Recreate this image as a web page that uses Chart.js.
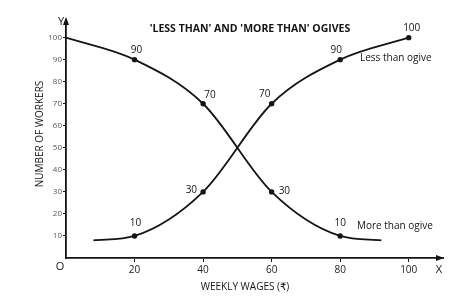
<!DOCTYPE html>
<html><head><meta charset="utf-8">
<script src="https://cdn.jsdelivr.net/npm/chart.js@4"></script>
<style>html,body{margin:0;padding:0;background:#fff}#wrap{width:474px;height:301px;position:relative}</style>
</head><body><div id="wrap"><canvas id="c" width="474" height="301"></canvas></div>
<script>
const chartTitle = "'LESS THAN' AND 'MORE THAN' OGIVES";
const xAxisTitle = "WEEKLY WAGES (₹)";
const yAxisTitle = "NUMBER OF WORKERS";
const xTickValues = [20, 40, 60, 80, 100];
const yTickValues = [10, 20, 30, 40, 50, 60, 70, 80, 90, 100];
const lessThanWages = [8, 20, 40, 60, 80, 100];
const lessThanWorkers = [8, 10, 30, 70, 90, 100];
const lessThanLabels = ['', '10', '30', '70', '90', '100'];
const moreThanWages = [0, 20, 40, 60, 80, 92];
const moreThanWorkers = [100, 90, 70, 30, 10, 8];
const moreThanLabels = ['', '90', '70', '30', '10', ''];
const lessThanName = 'Less than ogive';
const moreThanName = 'More than ogive';

const FONT = "'Open Sans', 'DejaVu Sans', sans-serif";
const INK = '#141414';

function toPoints(xs, ys) { return xs.map((x, i) => ({ x: x, y: ys[i] })); }

// label offsets (style only): [dx, dy, align]
const lessOffsets = [null, [1, -13, 'center'], [-6, -2, 'right'], [-7, -10, 'center'], [-4, -10, 'center'], [3, -9, 'center']];
const moreOffsets = [null, [2, -10, 'center'], [7, -9, 'center'], [7, -1, 'left'], [0, -13, 'center'], null];

const decor = {
  id: 'decor',
  afterDraw(chart) {
    const ctx = chart.ctx;
    const ca = chart.chartArea;
    ctx.save();
    ctx.fillStyle = INK;
    ctx.strokeStyle = INK;
    // arrows
    ctx.beginPath();
    ctx.moveTo(ca.left, ca.top - 3); ctx.lineTo(ca.left - 3, ca.top + 5); ctx.lineTo(ca.left + 3, ca.top + 5); ctx.closePath(); ctx.fill();
    ctx.beginPath();
    ctx.moveTo(ca.right + 1, ca.bottom); ctx.lineTo(ca.right - 7, ca.bottom - 3); ctx.lineTo(ca.right - 7, ca.bottom + 3); ctx.closePath(); ctx.fill();
    // title
    ctx.textBaseline = 'middle';
    ctx.textAlign = 'center';
    ctx.font = 'bold 10.5px ' + FONT;
    ctx.fillText(chartTitle, 250, 29);
    // axis titles
    ctx.font = '10px ' + FONT;
    ctx.fillText(xAxisTitle, 245, 287);
    ctx.save();
    ctx.translate(40, 134);
    ctx.rotate(-Math.PI / 2);
    ctx.fillText(yAxisTitle, 0, 0);
    ctx.restore();
    // O, X, Y
    ctx.font = '11px ' + FONT;
    ctx.fillText('O', 60, 267);
    ctx.fillText('X', 439, 270);
    ctx.fillText('Y', 61, 22);
    // series names
    ctx.font = '10px ' + FONT;
    ctx.textAlign = 'left';
    ctx.fillText(lessThanName, 360, 58);
    ctx.fillText(moreThanName, 357, 226);
    // point labels
    ctx.font = '10px ' + FONT;
    [[0, lessThanLabels, lessOffsets], [1, moreThanLabels, moreOffsets]].forEach(([di, labels, offs]) => {
      const meta = chart.getDatasetMeta(di);
      meta.data.forEach((pt, j) => {
        if (!labels[j] || !offs[j]) return;
        ctx.textAlign = offs[j][2];
        ctx.fillText(labels[j], pt.x + offs[j][0], pt.y + offs[j][1]);
      });
    });
    ctx.restore();
  }
};

new Chart(document.getElementById('c'), {
  type: 'scatter',
  data: {
    datasets: [
      {
        label: lessThanName,
        data: toPoints(lessThanWages, lessThanWorkers),
        showLine: true,
        borderColor: INK,
        backgroundColor: INK,
        borderWidth: 1.8,
        cubicInterpolationMode: 'monotone',
        pointRadius: lessThanLabels.map(l => l ? 2.7 : 0),
        pointBorderWidth: 0,
        clip: false
      },
      {
        label: moreThanName,
        data: toPoints(moreThanWages, moreThanWorkers),
        showLine: true,
        borderColor: INK,
        backgroundColor: INK,
        borderWidth: 1.8,
        cubicInterpolationMode: 'monotone',
        pointRadius: moreThanLabels.map(l => l ? 2.7 : 0),
        pointBorderWidth: 0,
        clip: false
      }
    ]
  },
  options: {
    responsive: false,
    animation: false,
    devicePixelRatio: 1,
    layout: { padding: { left: 0, top: 20, right: 31, bottom: 0 } },
    plugins: { legend: { display: false }, tooltip: { enabled: false }, title: { display: false } },
    scales: {
      x: {
        type: 'linear', min: 0, max: 110,
        afterFit: s => { s.height = 43; },
        afterBuildTicks: s => { s.ticks = xTickValues.map(v => ({ value: v })); },
        border: { display: true, color: INK, width: 1.8 },
        grid: { display: true, drawOnChartArea: false, drawTicks: true, tickLength: 4, color: INK, lineWidth: 1 },
        ticks: { color: '#222', font: { family: FONT, size: 10 }, padding: 2, autoSkip: false, maxRotation: 0 }
      },
      y: {
        type: 'linear', min: 0, max: 108,
        afterFit: s => { s.width = 66; },
        afterBuildTicks: s => { s.ticks = yTickValues.map(v => ({ value: v })); },
        border: { display: true, color: INK, width: 1.8 },
        grid: { display: true, drawOnChartArea: false, drawTicks: true, tickLength: 3, color: INK, lineWidth: 1 },
        ticks: { color: '#555', font: { family: FONT, size: 8 }, padding: 1, autoSkip: false }
      }
    }
  },
  plugins: [decor]
});
</script>
</body></html>
